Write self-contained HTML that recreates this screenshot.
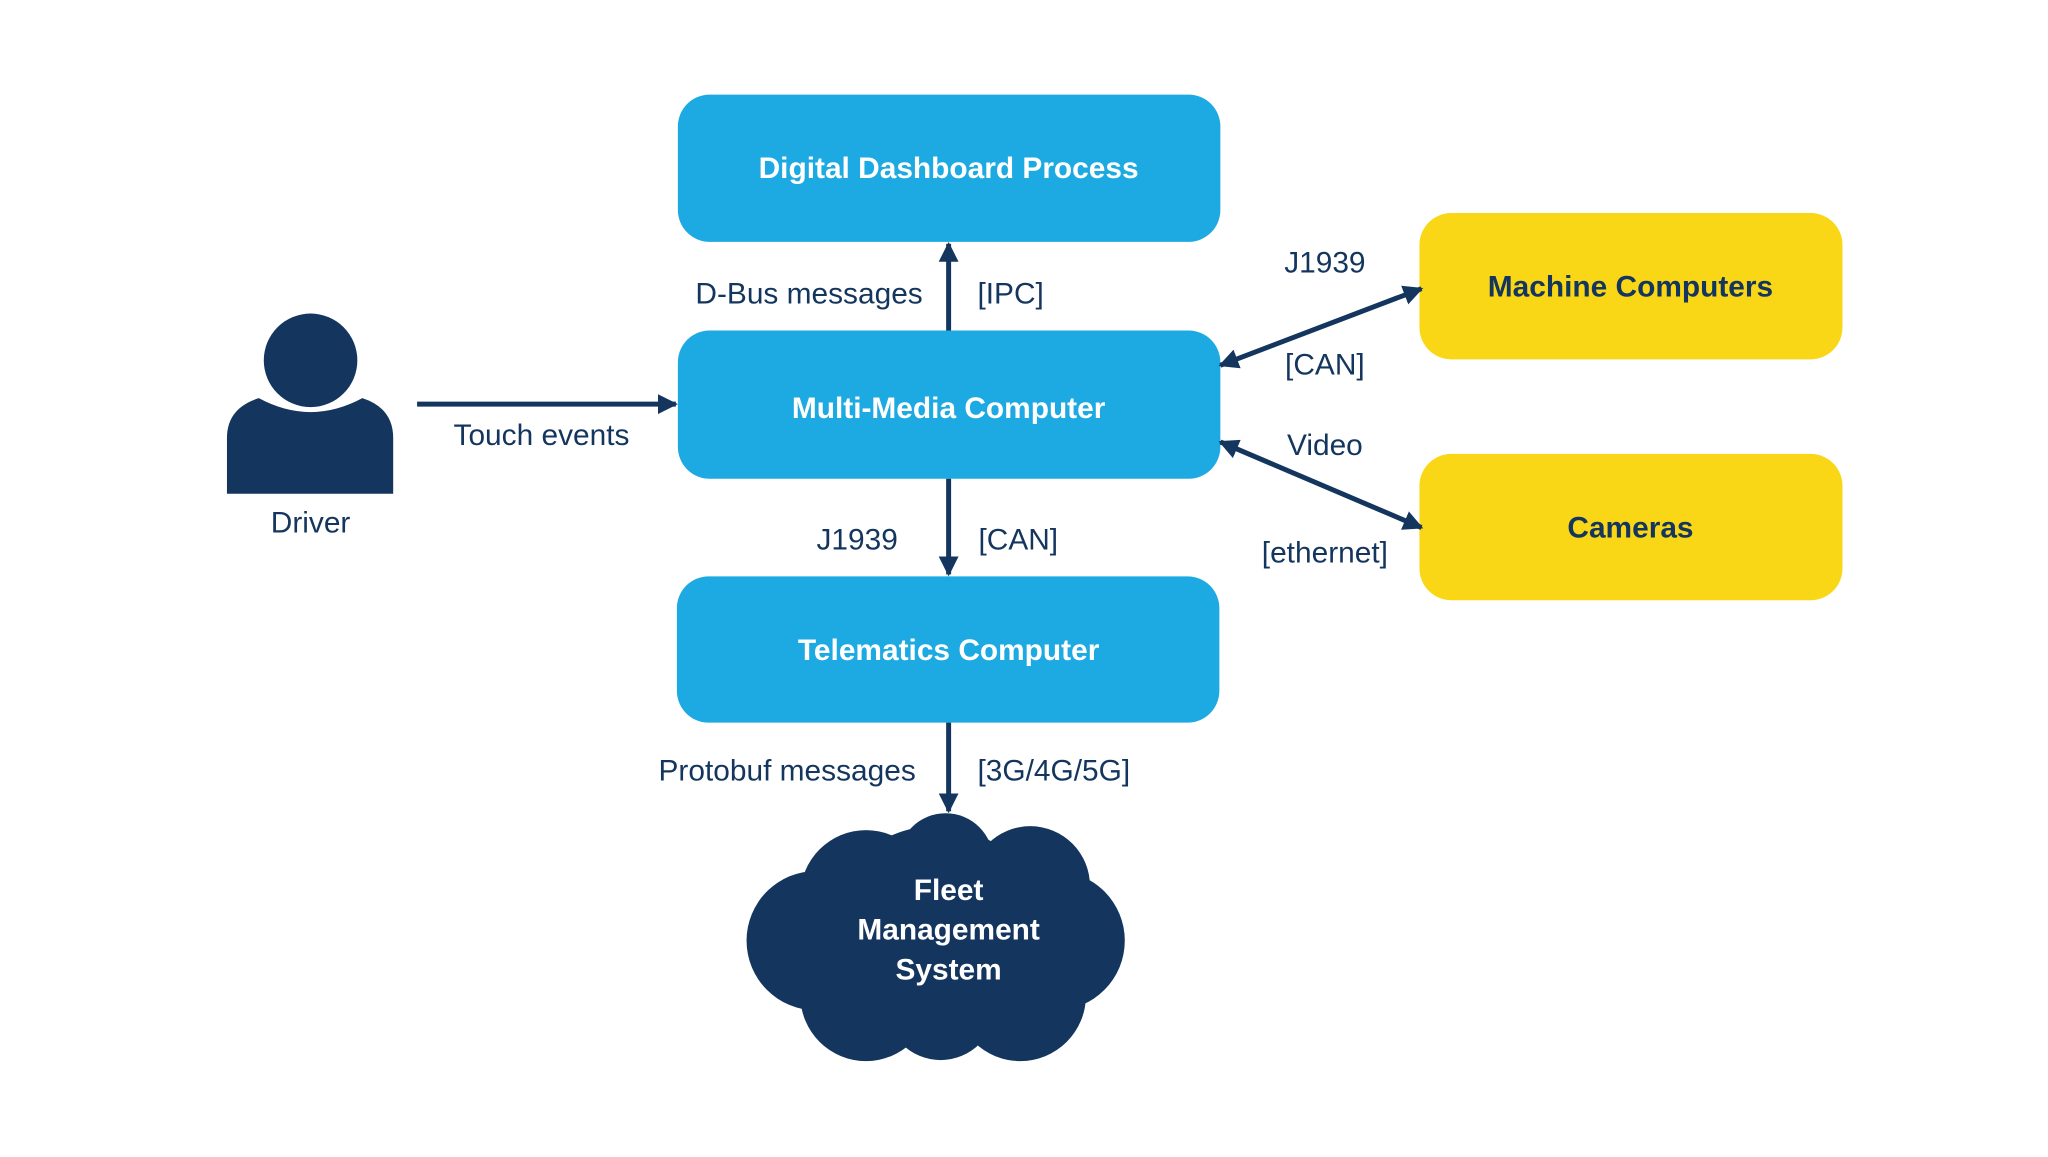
<!DOCTYPE html>
<html><head><meta charset="utf-8"><style>
body{margin:0;background:#fff}
svg text{font-family:"Liberation Sans",sans-serif}
</style></head><body>
<svg width="2048" height="1152" viewBox="0 0 2048 1152" xmlns="http://www.w3.org/2000/svg">
<defs>
<marker id="a" viewBox="0 0 10 10" refX="9" refY="5" markerWidth="4" markerHeight="4" orient="auto-start-reverse"><path d="M0,0 L10,5 L0,10 z" fill="#14365E"/></marker>
</defs>
<rect width="2048" height="1152" fill="#fff"/>
<g transform="scale(0.9954)">
<g fill="#1DAAE2">
<rect x="681" y="95" width="545" height="148" rx="32"/>
<rect x="681" y="332" width="545" height="149" rx="32"/>
<rect x="680" y="579" width="545" height="147" rx="32"/>
</g>
<g fill="#F9D616">
<rect x="1426" y="214" width="425" height="147" rx="32"/>
<rect x="1426" y="456" width="425" height="147" rx="32"/>
</g>
<g fill="#14365E">
<circle cx="312" cy="362" r="47"/>
<path d="M228,496 L228,440 Q228,410 260,400 Q312,428 364,400 Q395,410 395,440 L395,496 z"/>
<circle cx="950" cy="865" r="48"/>
<circle cx="870" cy="900" r="66"/>
<circle cx="1035" cy="890" r="60"/>
<circle cx="820" cy="945" r="70"/>
<circle cx="1060" cy="945" r="70"/>
<circle cx="870" cy="1000" r="66"/>
<circle cx="1025" cy="1000" r="66"/>
<circle cx="945" cy="1010" r="55"/>
<circle cx="940" cy="940" r="110"/>
</g>
<g stroke="#14365E" stroke-width="5" fill="none">
<line x1="419" y1="406" x2="679" y2="406" marker-end="url(#a)"/>
<line x1="953" y1="332" x2="953" y2="245" marker-end="url(#a)"/>
<line x1="953" y1="481" x2="953" y2="577" marker-end="url(#a)"/>
<line x1="953" y1="726" x2="953" y2="815" marker-end="url(#a)"/>
<line x1="1226" y1="367" x2="1428" y2="290" marker-start="url(#a)" marker-end="url(#a)"/>
<line x1="1226" y1="444" x2="1428" y2="530" marker-start="url(#a)" marker-end="url(#a)"/>
</g>
<g font-weight="bold" font-size="30" text-anchor="middle" fill="#fff">
<text x="953" y="179">Digital Dashboard Process</text>
<text x="953" y="420">Multi-Media Computer</text>
<text x="953" y="663">Telematics Computer</text>
<text x="953" y="904">Fleet</text>
<text x="953" y="944">Management</text>
<text x="953" y="984">System</text>
</g>
<g font-weight="bold" font-size="30" text-anchor="middle" fill="#14365E">
<text x="1638" y="298">Machine Computers</text>
<text x="1638" y="540">Cameras</text>
</g>
<g font-size="30" fill="#14365E">
<text x="312" y="535" text-anchor="middle">Driver</text>
<text x="544" y="447" text-anchor="middle">Touch events</text>
<text x="927" y="305" text-anchor="end">D-Bus messages</text>
<text x="982" y="305">[IPC]</text>
<text x="902" y="552" text-anchor="end">J1939</text>
<text x="983" y="552">[CAN]</text>
<text x="920" y="784" text-anchor="end">Protobuf messages</text>
<text x="982" y="784">[3G/4G/5G]</text>
<text x="1331" y="274" text-anchor="middle">J1939</text>
<text x="1331" y="376" text-anchor="middle">[CAN]</text>
<text x="1331" y="457" text-anchor="middle">Video</text>
<text x="1331" y="565" text-anchor="middle">[ethernet]</text>
</g>
</g>
</svg>
</body></html>
